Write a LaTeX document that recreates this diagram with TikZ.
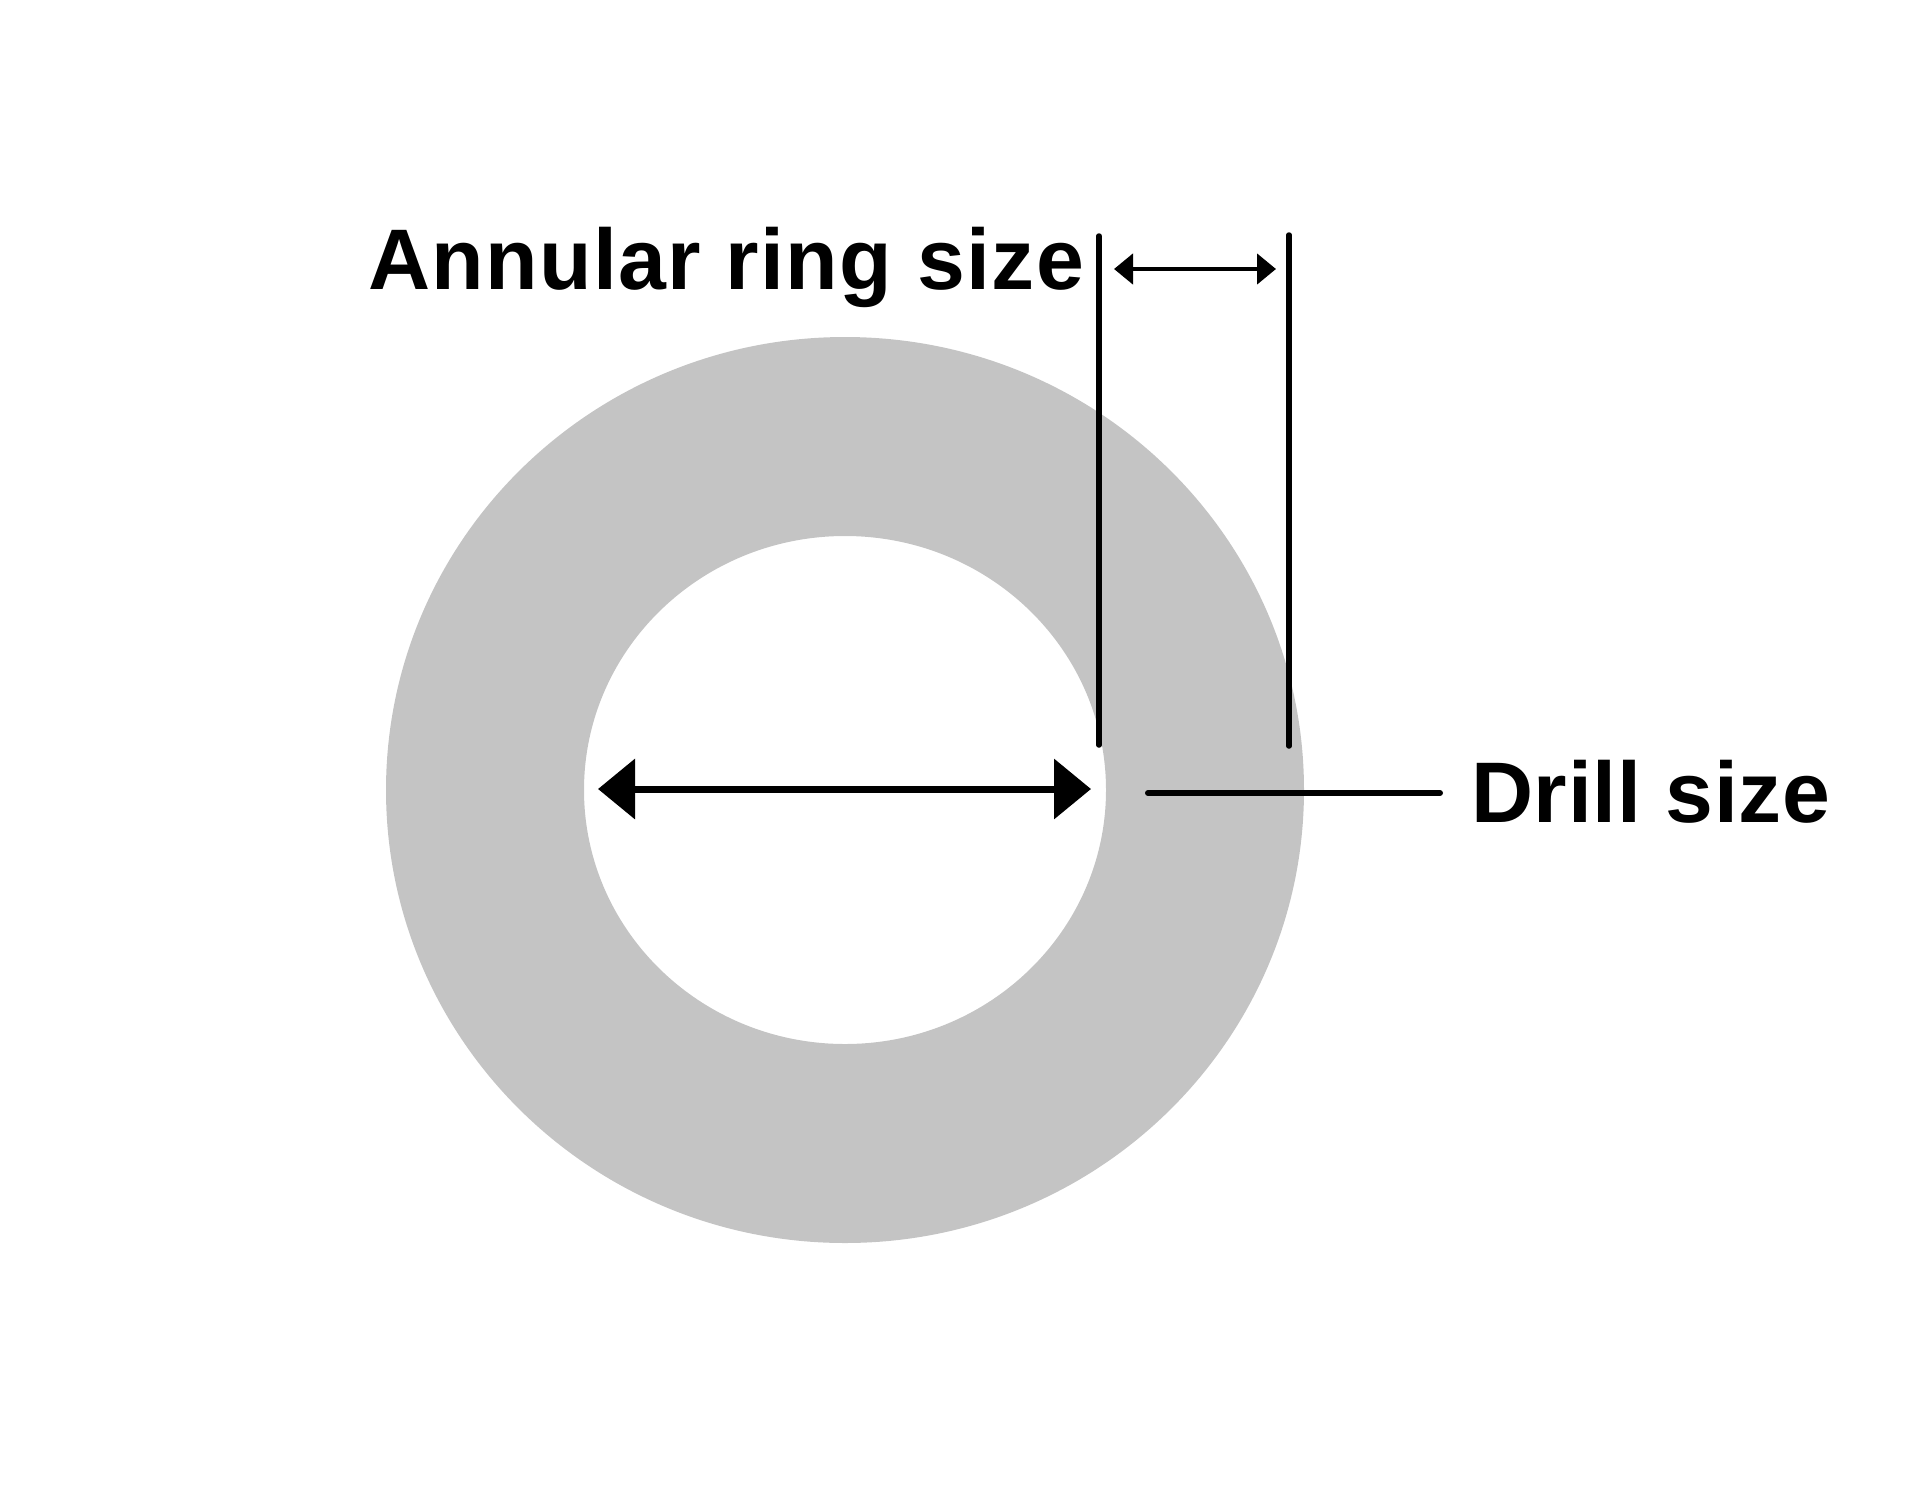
\documentclass[tikz,border=0pt]{standalone}
\usepackage{fontspec}
\setmainfont{Liberation Sans}
\usetikzlibrary{arrows.meta}
\definecolor{ringgray}{RGB}{196,196,196}
\begin{document}
\begin{tikzpicture}[x=1pt,y=-1pt,
  extline/.style={line width=5.5pt,line cap=round},
  bigarrow/.style={line width=7pt,{Triangle[length=37pt,width=59pt]}-{Triangle[length=37pt,width=59pt]}},
  smallarrow/.style={line width=4.5pt,{Triangle[length=19pt,width=30pt]}-{Triangle[length=19pt,width=30pt]}},
  lbl/.style={font=\fontsize{86}{100}\selectfont\bfseries, inner sep=0pt, anchor=base west}]
\useasboundingbox (0,0) rectangle (1920,1484);
% ring
\coordinate (c) at (845,790);
\fill[ringgray, even odd rule] (c) circle[x radius=459pt, y radius=453pt] (c) circle[x radius=261pt, y radius=254pt];
% extension lines
\coordinate (l1) at (1099,236);
\coordinate (l2) at (1099,745);
\coordinate (r1) at (1289,235);
\coordinate (r2) at (1289,746);
\draw[extline] (l1) -- (l2);
\draw[extline] (r1) -- (r2);
% annular ring arrow
\coordinate (a1) at (1114,269);
\coordinate (a2) at (1276,269);
\draw[smallarrow] (a1) -- (a2);
% drill arrow
\coordinate (d1) at (598,789);
\coordinate (d2) at (1091,789);
\draw[bigarrow] (d1) -- (d2);
% drill leader
\coordinate (p1) at (1148,793);
\coordinate (p2) at (1440,793);
\draw[line width=6pt,line cap=round] (p1) -- (p2);
% labels
\node[lbl] (ann) at (368,289) {\addfontfeature{LetterSpace=1.5}Annular ring size};
\node[lbl] (drill) at (1471,822) {\addfontfeature{LetterSpace=0.8}Drill size};
\end{tikzpicture}
\end{document}
